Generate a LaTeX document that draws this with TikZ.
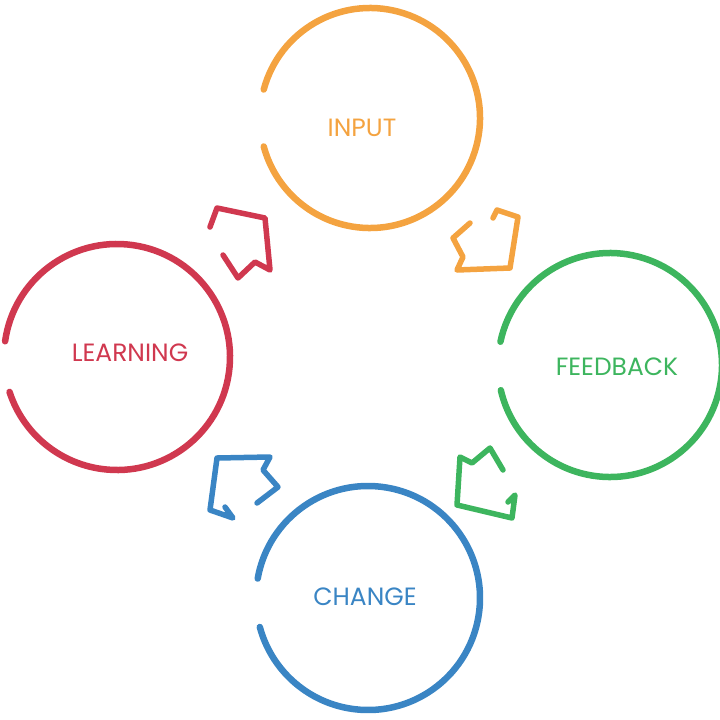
\documentclass[tikz,border=0pt]{standalone}
\usepackage{fontspec}
\setmainfont{Poppins}
\begin{document}
\begin{tikzpicture}[x=1pt,y=-1pt,line cap=round,line join=round,
  ring/.style={line width=6.5pt},
  arr/.style={line width=5.5pt},
  lbl/.style={font=\fontsize{25}{25}\selectfont}]
\definecolor{cor}{HTML}{F4A340}
\definecolor{cre}{HTML}{D0384F}
\definecolor{cgr}{HTML}{3DB55E}
\definecolor{cbl}{HTML}{3A85C4}
\useasboundingbox (0,0) rectangle (720,720);
\coordinate (ci) at (370,118);
\coordinate (cl) at (117,357);
\coordinate (cf) at (610,365);
\coordinate (cc) at (368,598);
\draw[ring,cor,shift={(370,118)}] (195:110) arc[start angle=195,end angle=525,radius=110];
\draw[ring,cre,shift={(117,357)}] (188:113) arc[start angle=188,end angle=522,radius=113];
\draw[ring,cgr,shift={(610,365)}] (192:112) arc[start angle=192,end angle=527,radius=112];
\draw[ring,cbl,shift={(368,598)}] (190:112) arc[start angle=190,end angle=525,radius=112];
\node[lbl,text=cor] (tin) at (362,128) {INPUT};
\node[lbl,text=cre] (tle) at (130,353) {LEARNING};
\node[lbl,text=cgr] (tfe) at (617,367) {FEEDBACK};
\node[lbl,text=cbl] (tch) at (365,597) {CHANGE};
\draw[arr,cre] (223,255)--(238,278)--(255,262)--(270,270)--(265,218)--(217,208)--(210,227);
\draw[arr,cor] (470,223)--(453,238)--(463,257)--(457,270)--(510,268)--(518,217)--(497,210)--(493,218);
\draw[arr,cgr] (503,470)--(490,448)--(472,463)--(460,457)--(457,505)--(512,518)--(515,495)--(508,502);
\draw[arr,cbl] (257,503)--(278,487)--(263,470)--(270,457)--(217,458)--(210,510)--(233,518)--(225,507);
\end{tikzpicture}
\end{document}
